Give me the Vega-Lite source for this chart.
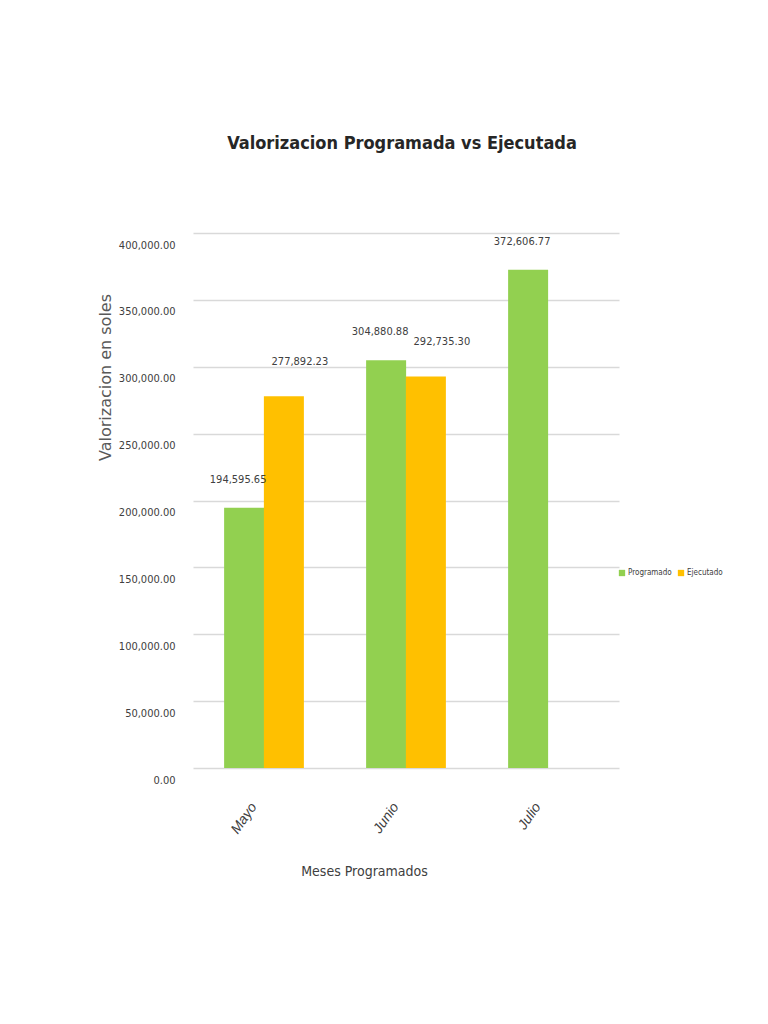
{
  "$schema": "https://vega.github.io/schema/vega-lite/v6.json",
  "autosize": "none",
  "width": 426,
  "height": 535,
  "padding": {"left": 193, "top": 233, "right": 149, "bottom": 256},
  "background": "white",
  "view": {"stroke": null},
  "title": {
    "text": "Valorizacion  Programada  vs  Ejecutada",
    "font": "DejaVu Sans Condensed",
    "fontSize": 18,
    "fontWeight": "bold",
    "color": "#262626",
    "anchor": "middle",
    "dx": -4,
    "offset": 80
  },
  "data": {
    "values": [
      {"mes": "Mayo", "serie": "Programado", "valor": 194595.65},
      {"mes": "Mayo", "serie": "Ejecutado", "valor": 277892.23},
      {"mes": "Junio", "serie": "Programado", "valor": 304880.88},
      {"mes": "Junio", "serie": "Ejecutado", "valor": 292735.30},
      {"mes": "Julio", "serie": "Programado", "valor": 372606.77}
    ]
  },
  "encoding": {
    "x": {
      "field": "mes",
      "type": "nominal",
      "sort": ["Mayo", "Junio", "Julio"],
      "scale": {"paddingInner": 0.44, "paddingOuter": 0.22},
      "axis": {
        "title": "Meses Programados",
        "titleFont": "DejaVu Sans Condensed",
        "titleFontSize": 14,
        "titleFontWeight": "normal",
        "titleColor": "#404040",
        "titleX": 171,
        "titleY": 96,
        "labelAngle": -55,
        "labelFont": "Liberation Sans",
        "labelFontStyle": "italic",
        "labelFontSize": 14,
        "labelColor": "#404040",
        "labelPadding": 36,
        "labelOffset": -10,
        "ticks": false,
        "domain": false,
        "grid": false
      }
    },
    "xOffset": {"field": "serie", "type": "nominal", "sort": ["Programado", "Ejecutado"]},
    "y": {
      "field": "valor",
      "type": "quantitative",
      "scale": {"domain": [0, 400000]},
      "axis": {
        "title": "Valorizacion  en soles",
        "titleFont": "DejaVu Sans",
        "titleFontSize": 16,
        "titleFontWeight": "normal",
        "titleColor": "#595959",
        "titleX": -88,
        "titleY": 144,
        "titleBaseline": "middle",
        "format": ",.2f",
        "tickCount": 8,
        "labelFont": "DejaVu Sans Condensed",
        "labelFontSize": 11,
        "labelColor": "#404040",
        "labelPadding": 18,
        "labelOffset": 12,
        "ticks": false,
        "domain": false,
        "gridColor": "#d9d9d9",
        "gridWidth": 1.5
      }
    }
  },
  "layer": [
    {
      "mark": {"type": "bar", "width": 40},
      "encoding": {
        "color": {
          "field": "serie",
          "type": "nominal",
          "sort": ["Programado", "Ejecutado"],
          "scale": {"domain": ["Programado", "Ejecutado"], "range": ["#92d050", "#ffc000"]},
          "legend": {
            "title": null,
            "orient": "none",
            "legendX": 425,
            "legendY": 336,
            "direction": "horizontal",
            "symbolType": "square",
            "symbolSize": 40,
            "labelFont": "DejaVu Sans Condensed",
            "labelFontSize": 8,
            "labelColor": "#404040",
            "labelOffset": 2,
            "columnPadding": 5
          }
        }
      }
    },
    {
      "transform": [{"filter": "datum.serie == 'Programado'"}],
      "mark": {"type": "text", "dy": -28, "dx": -6, "font": "DejaVu Sans Condensed", "fontSize": 11, "color": "#404040"},
      "encoding": {
        "text": {"field": "valor", "type": "quantitative", "format": ",.2f"}
      }
    },
    {
      "transform": [{"filter": "datum.serie == 'Ejecutado'"}],
      "mark": {"type": "text", "dy": -34, "dx": 16, "font": "DejaVu Sans Condensed", "fontSize": 11, "color": "#404040"},
      "encoding": {
        "text": {"field": "valor", "type": "quantitative", "format": ",.2f"}
      }
    }
  ]
}
